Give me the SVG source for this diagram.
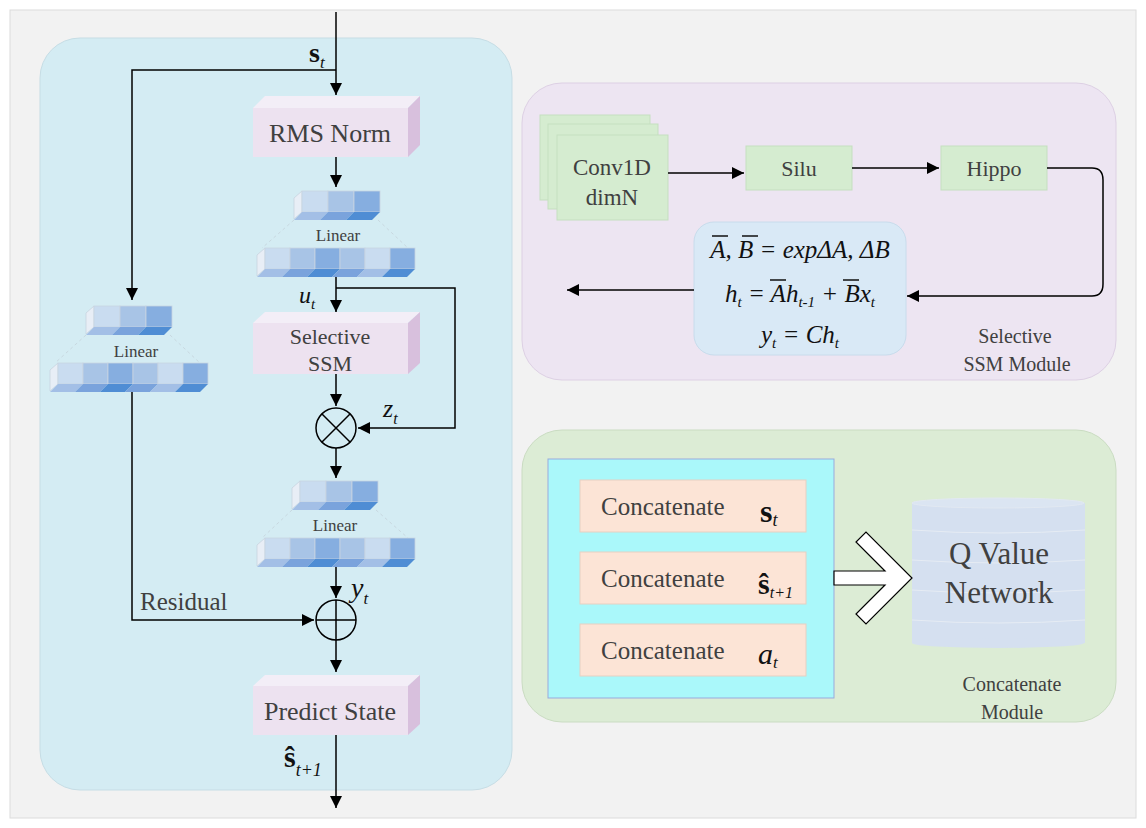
<svg xmlns="http://www.w3.org/2000/svg" width="1146" height="828" viewBox="0 0 1146 828">
<style>
text{font-family:"Liberation Serif",serif;fill:#404040}
.m{font-family:"Liberation Serif",serif;font-style:italic;fill:#111}
.b{font-weight:bold;fill:#111;font-style:normal}
.ln{stroke:#000;stroke-width:1.5;fill:none}
.c1{fill:#c9dcf0;stroke:#c8d4e0;stroke-width:.8}.c2{fill:#a8c4e6;stroke:#c8d4e0;stroke-width:.8}.c3{fill:#86aee0;stroke:#c8d4e0;stroke-width:.8}
.d1{fill:#a3bfe6}.d2{fill:#7aa3dc}.d3{fill:#4f8dd4}
.box{fill:#d5ecd0;stroke:#c5dfc0}
.cc{fill:#fce4d6;stroke:#e6d0c2}
</style>
<defs>
<marker id="ar" viewBox="0 0 10 10" refX="10" refY="5" markerWidth="8" markerHeight="8" orient="auto"><path d="M0,0 L10,5 L0,10 z" fill="#000"/></marker>
<g id="sm">
<path d="M0,0 L-8,7 L-8,28 L0,21 z" fill="#e8eef6" stroke="#c8d4e0" stroke-width=".8"/>
<rect class="c1" x="0" y="0" width="26" height="21"/><rect class="c2" x="26" y="0" width="26" height="21"/><rect class="c3" x="52" y="0" width="26" height="21"/>
<path class="d1" d="M0,21 h26 l-8,8 h-26z"/><path class="d2" d="M26,21 h26 l-8,8 h-26z"/><path class="d3" d="M52,21 h26 l-8,8 h-26z"/>
</g>
<g id="bg">
<path d="M0,0 L-8,7 L-8,28 L0,21 z" fill="#e8eef6" stroke="#c8d4e0" stroke-width=".8"/>
<rect class="c1" x="0" y="0" width="25" height="21"/><rect class="c2" x="25" y="0" width="25" height="21"/><rect class="c3" x="50" y="0" width="25" height="21"/><rect class="c2" x="75" y="0" width="25" height="21"/><rect class="c1" x="100" y="0" width="25" height="21"/><rect class="c3" x="125" y="0" width="25" height="21"/>
<path class="d1" d="M0,21 h25 l-8,8 h-25z"/><path class="d2" d="M25,21 h25 l-8,8 h-25z"/><path class="d3" d="M50,21 h25 l-8,8 h-25z"/><path class="d2" d="M75,21 h25 l-8,8 h-25z"/><path class="d1" d="M100,21 h25 l-8,8 h-25z"/><path class="d3" d="M125,21 h25 l-8,8 h-25z"/>
</g>
</defs>
<rect x="10" y="10" width="1126" height="808" fill="#f2f2f2" stroke="#dcdcdc"/>
<rect x="40" y="38" width="472" height="752" rx="40" fill="#d4ecf3" stroke="#c6dde5"/>
<rect x="522" y="83" width="594" height="297" rx="40" fill="#ede5f2" stroke="#ddd0e4"/>
<rect x="522" y="430" width="594" height="292" rx="40" fill="#dcecd5" stroke="#cadcc2"/>

<g id="rms">
<path d="M253,108 L265,96 L420,96 L408,108z" fill="#f3eef7"/><path d="M408,108 L420,96 L420,145 L408,157z" fill="#d8c0dd"/>
<rect x="253" y="108" width="155" height="49" fill="#ede2f0"/>
<text x="330" y="142" font-size="26" text-anchor="middle">RMS Norm</text></g>
<g id="lin1"><use href="#sm" x="302" y="191"/><use href="#bg" x="265" y="248"/>
<path d="M294,220 L262,248 M378,220 L408,248" stroke="#c8d8e0" stroke-dasharray="3,3"/>
<text x="338" y="241" font-size="17" text-anchor="middle">Linear</text></g>
<g id="ssm">
<path d="M253,323 L265,312 L420,312 L408,323z" fill="#f3eef7"/><path d="M408,323 L420,312 L420,363 L408,374z" fill="#d8c0dd"/>
<rect x="253" y="323" width="155" height="51" fill="#ede2f0"/>
<text x="330" y="344" font-size="22" text-anchor="middle">Selective</text><text x="330" y="371" font-size="22" text-anchor="middle">SSM</text></g>
<g id="mul"><circle cx="336" cy="428" r="20" fill="none" stroke="#000" stroke-width="1.5"/><path class="ln" d="M322,414 L350,442 M350,414 L322,442"/></g>
<g id="lin2"><use href="#sm" x="300" y="481"/><use href="#bg" x="265" y="538"/>
<path d="M292,510 L262,538 M376,510 L408,538" stroke="#c8d8e0" stroke-dasharray="3,3"/>
<text x="335" y="531" font-size="17" text-anchor="middle">Linear</text></g>
<g id="add"><circle cx="336" cy="620" r="20" fill="none" stroke="#000" stroke-width="1.5"/><path class="ln" d="M316,620 H356 M336,600 V640"/></g>
<g id="linL"><use href="#sm" x="94" y="306"/><use href="#bg" x="58" y="363"/>
<path d="M86,335 L55,363 M170,335 L200,363" stroke="#c8d8e0" stroke-dasharray="3,3"/>
<text x="136" y="357" font-size="17" text-anchor="middle">Linear</text></g>
<g id="pred">
<path d="M253,686 L265,675 L420,675 L408,686z" fill="#f3eef7"/><path d="M408,686 L420,675 L420,724 L408,735z" fill="#d8c0dd"/>
<rect x="253" y="686" width="155" height="49" fill="#ede2f0"/>
<text x="330" y="720" font-size="26" text-anchor="middle">Predict State</text></g>

<g id="conv"><rect class="box" x="540" y="115" width="110" height="85"/><rect class="box" x="548" y="124" width="110" height="85"/><rect class="box" x="557" y="135" width="111" height="85"/>
<text x="612" y="175" font-size="23" text-anchor="middle">Conv1D</text><text x="612" y="205" font-size="23" text-anchor="middle">dimN</text></g>
<g id="silu"><rect class="box" x="746" y="146" width="106" height="44"/><text x="799" y="176" font-size="22" text-anchor="middle">Silu</text></g>
<g id="hippo"><rect class="box" x="941" y="146" width="106" height="44"/><text x="994" y="176" font-size="22" text-anchor="middle">Hippo</text></g>
<g id="formula"><rect x="694" y="222" width="212" height="133" rx="20" fill="#d9e9f6" stroke="#c8dcec"/>
<text class="m" x="800" y="258" font-size="25" text-anchor="middle">A, B = expΔA, ΔB</text>
<path d="M712,236 H728 M742,236 H758" stroke="#111" stroke-width="1.3"/>
<text class="m" x="800" y="302" font-size="25" text-anchor="middle">h<tspan font-size="15" dy="5">t</tspan><tspan dy="-5"> = Ah</tspan><tspan font-size="15" dy="5">t-1</tspan><tspan dy="-5"> + Bx</tspan><tspan font-size="15" dy="5">t</tspan></text>
<path d="M770,280 H786 M843,280 H859" stroke="#111" stroke-width="1.3"/>
<text class="m" x="800" y="343" font-size="25" text-anchor="middle">y<tspan font-size="15" dy="5">t</tspan><tspan dy="-5"> = Ch</tspan><tspan font-size="15" dy="5">t</tspan></text></g>
<text x="1015" y="343" font-size="20" text-anchor="middle">Selective</text>
<text x="1017" y="371" font-size="20" text-anchor="middle">SSM  Module</text>

<g id="concat"><rect x="548" y="459" width="286" height="239" fill="#aaf8fa" stroke="#9ad"/>
<rect class="cc" x="580" y="480" width="226" height="52"/><text x="601" y="515" font-size="25">Concatenate</text><text class="b" x="760" y="522" font-size="32" style="font-weight:bold">s<tspan class="m" font-size="18" dy="4" font-weight="normal">t</tspan></text>
<rect class="cc" x="580" y="552" width="226" height="52"/><text x="601" y="587" font-size="25">Concatenate</text><text class="b" x="758" y="594" font-size="30" style="font-weight:bold">ŝ<tspan class="m" font-size="16" dy="4" font-weight="normal">t+1</tspan></text>
<rect class="cc" x="580" y="624" width="226" height="52"/><text x="601" y="659" font-size="25">Concatenate</text><text class="m" x="758" y="664" font-size="30">a<tspan font-size="17" dy="4">t</tspan></text></g>
<g id="qnet">
<rect x="912" y="503" width="173" height="140" fill="#d5e0f0"/>
<ellipse cx="998" cy="503" rx="86" ry="5" fill="#dbe5f2" stroke="#e2e9f2"/>
<path d="M912,530 Q998,536 1085,530 M912,560 Q998,566 1085,560 M912,590 Q998,596 1085,590 M912,620 Q998,626 1085,620" stroke="#e6ecf4" fill="none"/>
<ellipse cx="998" cy="643" rx="86" ry="5" fill="#d5e0f0"/>
<text x="999" y="564" font-size="31" text-anchor="middle">Q Value</text><text x="999" y="603" font-size="31" text-anchor="middle">Network</text></g>
<text x="1012" y="691" font-size="20" text-anchor="middle">Concatenate</text>
<text x="1012" y="719" font-size="20" text-anchor="middle">Module</text>

<g id="connectors">
<path class="ln" d="M336,12 V95" marker-end="url(#ar)"/>
<path class="ln" d="M336,70 H132 V300" marker-end="url(#ar)"/>
<path class="ln" d="M336,157 V187" marker-end="url(#ar)"/>
<path class="ln" d="M336,277 V312" marker-end="url(#ar)"/>
<path class="ln" d="M336,288 H455 V428 H358" marker-end="url(#ar)"/>
<path class="ln" d="M336,374 V406" marker-end="url(#ar)"/>
<path class="ln" d="M336,448 V478" marker-end="url(#ar)"/>
<path class="ln" d="M336,567 V598" marker-end="url(#ar)"/>
<path class="ln" d="M132,392 V620 H314" marker-end="url(#ar)"/>
<path class="ln" d="M336,640 V672" marker-end="url(#ar)"/>
<path class="ln" d="M336,735 V808" marker-end="url(#ar)"/>
<path class="ln" d="M668,173 H744" marker-end="url(#ar)"/>
<path class="ln" d="M852,168 H939" marker-end="url(#ar)"/>
<path class="ln" d="M1047,168 H1092 Q1103,168 1103,180 V284 Q1103,296 1092,296 H907" marker-end="url(#ar)"/>
<path class="ln" d="M694,290 H567" marker-end="url(#ar)"/>
<path d="M834,571 H885 L856,542 L866,532 L912,578 L866,624 L856,614 L885,585 H834 z" fill="#fff" stroke="#000" stroke-width="1.2"/>
</g>
<text class="b" x="309" y="62" font-size="28" style="font-weight:bold">s<tspan class="m" font-size="17" dy="6" font-weight="normal">t</tspan></text>
<text class="m" x="299" y="303" font-size="24">u<tspan font-size="15" dy="6">t</tspan></text>
<text class="m" x="383" y="417" font-size="26">z<tspan font-size="16" dy="7">t</tspan></text>
<text class="m" x="351" y="597" font-size="28">y<tspan font-size="17" dy="7">t</tspan></text>
<text x="140" y="610" font-size="25">Residual</text>
<text class="b" x="284" y="767" font-size="30" style="font-weight:bold">ŝ<tspan class="m" font-size="18" dy="9" font-weight="normal">t+1</tspan></text>
</svg>
